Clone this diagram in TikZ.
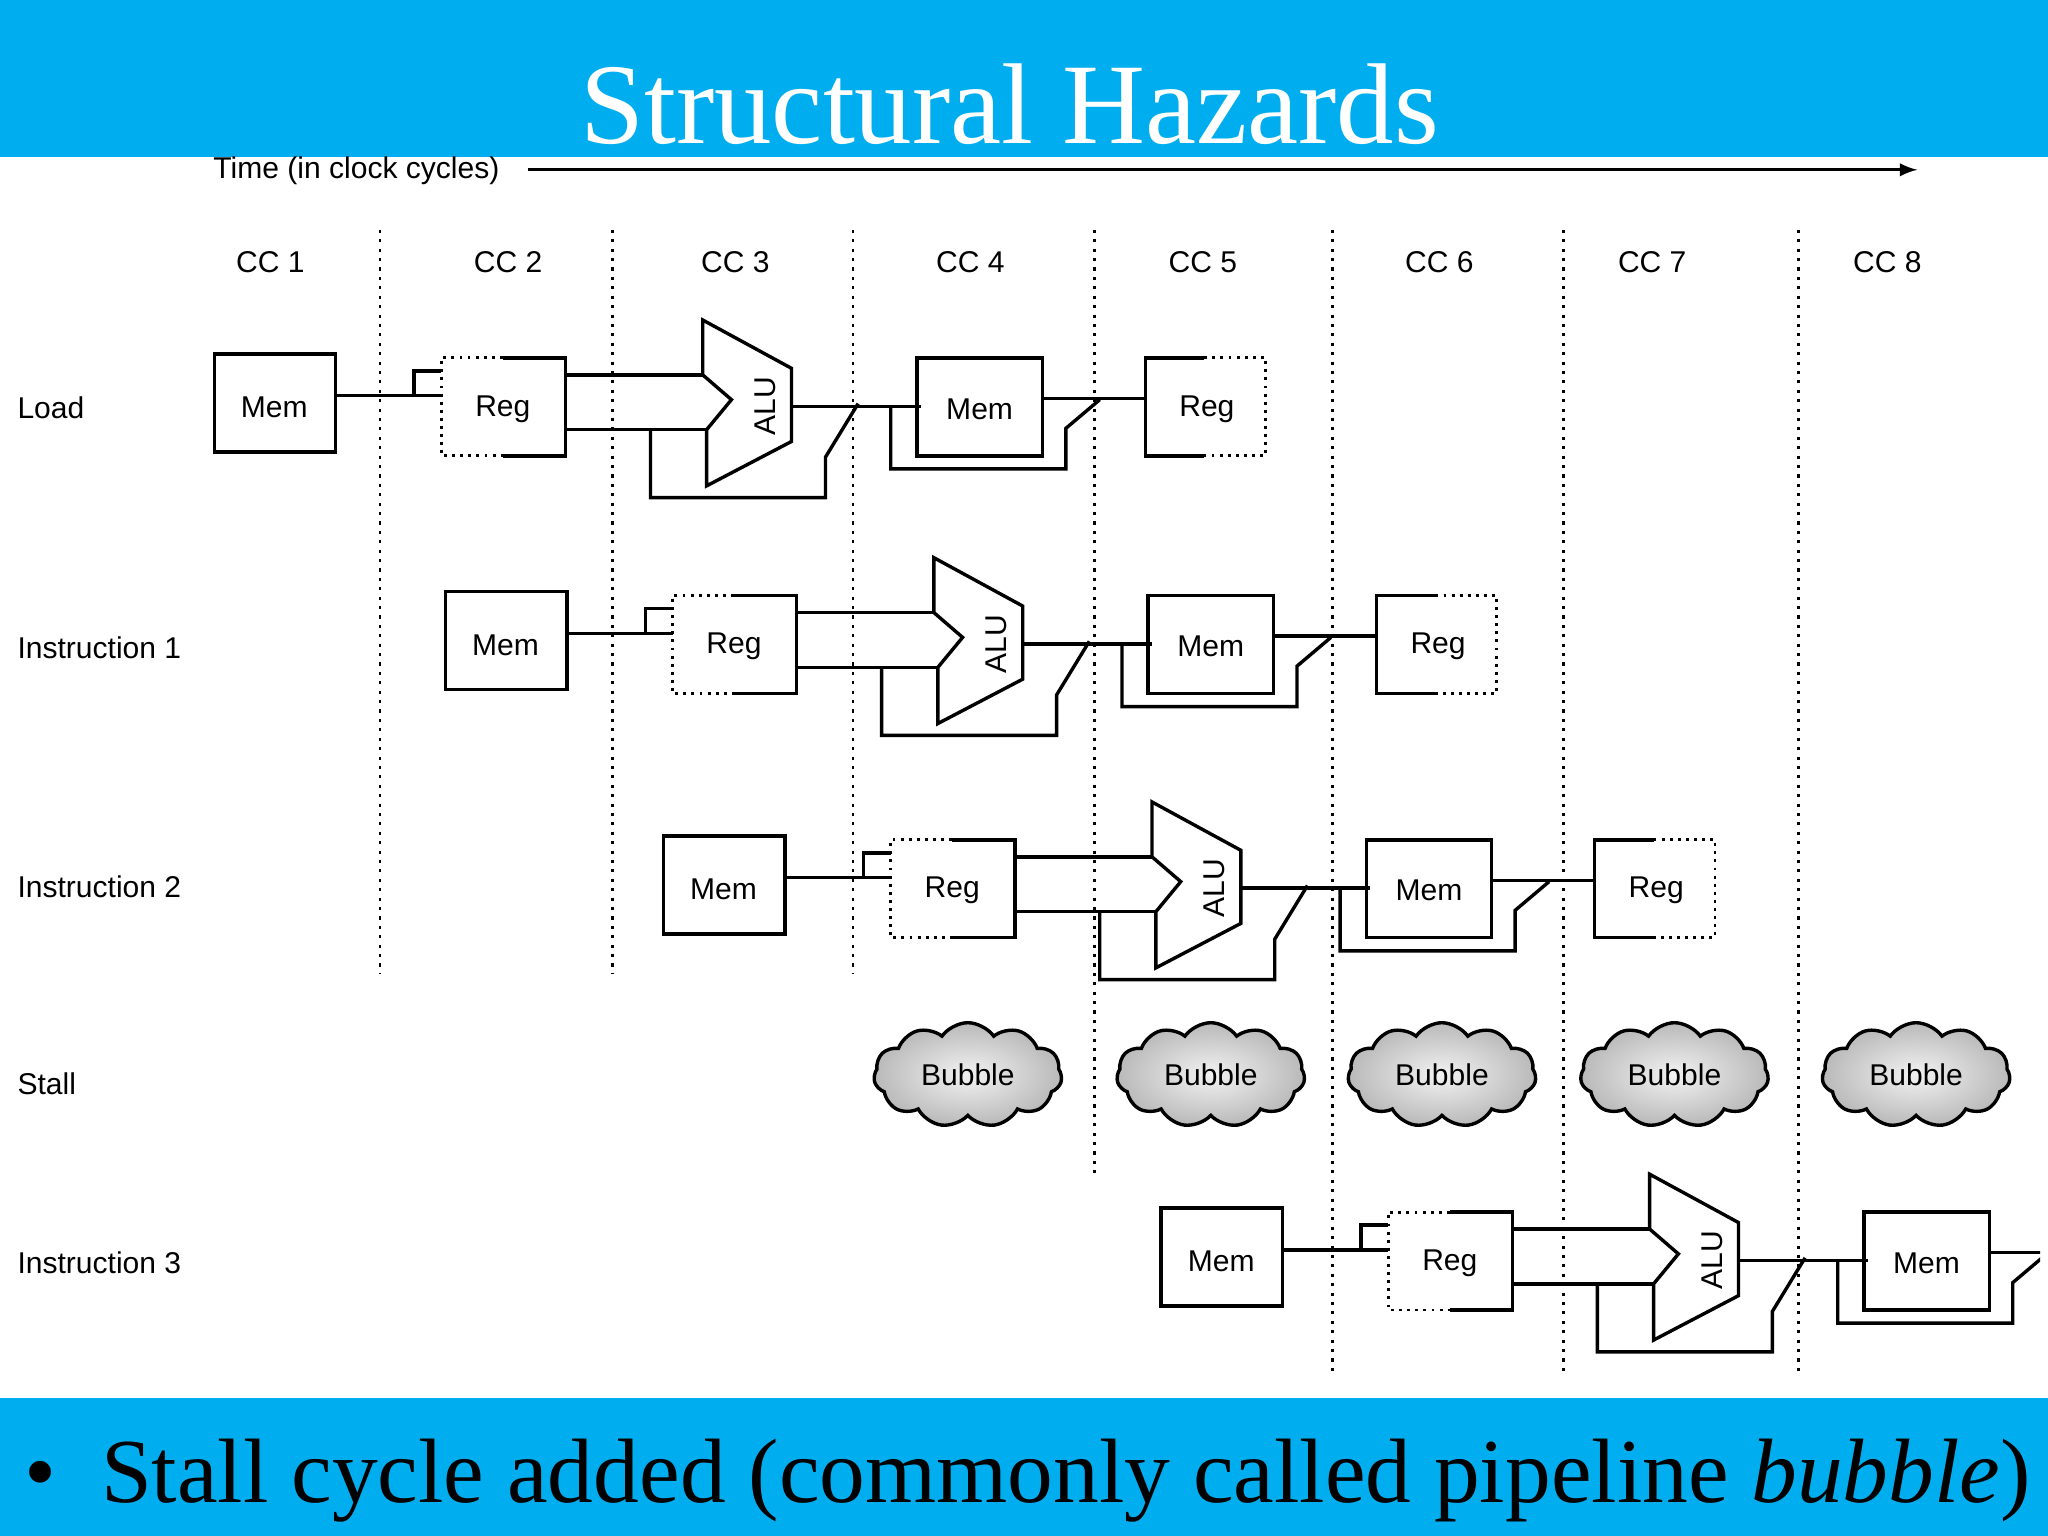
\documentclass[tikz,border=0pt]{standalone}
\usepackage{fontspec}
\setmainfont{Liberation Serif}
\newfontfamily\lab{Liberation Sans}
\usetikzlibrary{shapes.symbols}
\definecolor{band}{RGB}{0,174,239}
\tikzset{
  lb/.style={font=\lab\fontsize{11.5}{13}\selectfont, inner sep=0pt},
  stg/.style={line width=1.3pt},
  dots/.style={line width=1.1pt, dotted},
  vdiv/.style={line width=1pt, dash pattern=on 1.2pt off 2.4pt},
  bub/.style={cloud, cloud puffs=11, cloud puff arc=110, aspect=1.9, draw, line width=1.3pt,
    minimum width=72pt, minimum height=40pt, inner color=gray!10, outer color=gray!55,
    font=\lab\fontsize{11.5}{13}\selectfont}
}
% #1 name, #2 dx, #3 dy, #4 draw final reg (1/0)
\newcommand\pipeinstr[4]{%
\begin{scope}[shift={(#2,#3)}]
  \node[lb] (#1m) at (46,41) {Mem};
  \draw[stg] (0,0) rectangle (93,75);
  \draw[stg] (93,32) -- (174,32);
  \draw[stg] (153,32) -- (153,13) -- (174,13);
  \node[lb] (#1r) at (221,42) {Reg};
  \draw[stg] (221,3) -- (269,3) -- (269,78) -- (221,78);
  \draw[dots] (221,3) -- (174,3) -- (174,78) -- (221,78);
  \draw[stg] (269,16) -- (374,16);
  \draw[stg] (269,58) -- (377,58);
  \draw[stg] (374,-26) -- (442,11) -- (442,67) -- (377,101) -- (377,58) -- (396,35) -- (374,16) -- cycle;
  \node[lb, rotate=90] (#1a) at (422,40) {ALU};
  \draw[stg] (442,40) -- (541,40);
  \draw[stg] (334,58) -- (334,110) -- (468,110) -- (468,79) -- (493,38);
  \node[lb] (#1n) at (586,42) {Mem};
  \draw[stg] (538,3) rectangle (634,78);
  \draw[stg] (518,40) -- (518,88) -- (652,88) -- (652,57) -- (678,35);
  \ifnum#4=1
    \draw[stg] (634,34) -- (713,34);
    \node[lb] (#1w) at (760,42) {Reg};
    \draw[stg] (758,3) -- (713,3) -- (713,78) -- (758,78);
    \draw[dots] (758,3) -- (805,3) -- (805,78) -- (758,78);
  \else
    \draw[stg] (634,34) -- (678,34);
  \fi
\end{scope}}
\begin{document}
\begin{tikzpicture}[x=0.5pt,y=-0.5pt]
\useasboundingbox (0,0) rectangle (1568,1176);
\fill[white] (0,0) rectangle (1568,1176);
\fill[band] (0,0) rectangle (1568,120);
\node[text=white, font=\fontsize{44}{48}\selectfont, anchor=base] (title) at (773,110) {Structural Hazards};
\node[lb, anchor=west] (time) at (163,131) {Time (in clock cycles)};
\coordinate (ta) at (404,130); \coordinate (tb) at (1468,130);
\draw[line width=1.3pt, -latex] (ta) -- (tb);
\foreach \x/\n in {207/1,389/2,563/3,743/4,921/5,1102/6,1265/7,1445/8}
  \node[lb] (cc\n) at (\x,201) {CC \n};
\foreach \x/\b in {291/745,469/745,653/745,838/900,1020/1050,1197/1050,1377/1050}
  \draw[vdiv] (\x,176) -- (\x,\b);
\foreach \y/\t/\n in {312/Load/l0,496/Instruction 1/l1,679/Instruction 2/l2,830/Stall/l3,967/Instruction 3/l4}
  \node[lb, anchor=west] (\n) at (13,\y) {\t};
\pipeinstr{a}{164}{271}{1}
\pipeinstr{b}{341}{453}{1}
\pipeinstr{c}{508}{640}{1}
\begin{scope}
\clip (0,0) rectangle (1562,1176);
\pipeinstr{d}{889}{925}{0}
\end{scope}
\foreach \x/\n in {741/1,927/2,1104/3,1282/4,1467/5}
  \node[bub] (bb\n) at (\x,823) {Bubble};
\fill[band] (0,1070) rectangle (1568,1176);
\node[anchor=base west, font=\fontsize{35}{40}\selectfont, inner sep=0pt] (bul) at (18,1150) {\textbullet};
\node[anchor=base west, font=\fontsize{35}{40}\selectfont, inner sep=0pt] (btext) at (77,1150) {Stall cycle added (commonly called pipeline \textit{bubble})};
\end{tikzpicture}
\end{document}
